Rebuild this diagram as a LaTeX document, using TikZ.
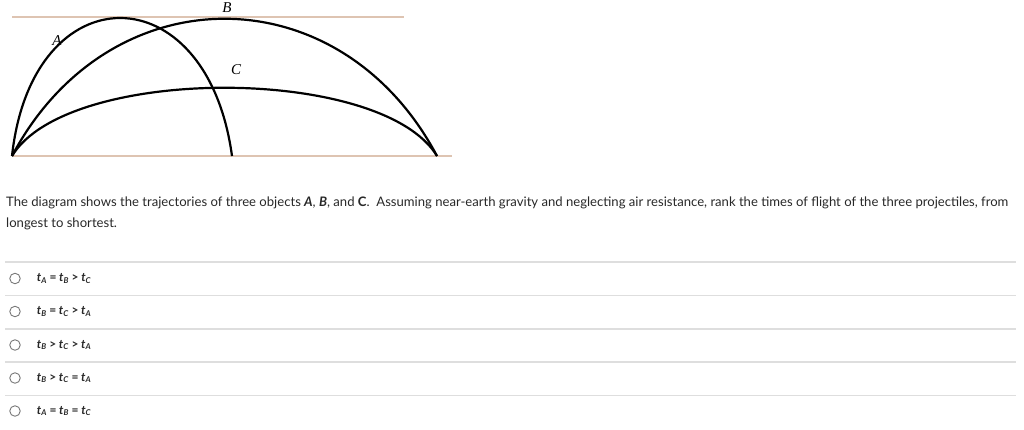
\documentclass[tikz,border=0pt]{standalone}
\usepackage{fontspec}
\setmainfont{Lato}
\newfontfamily\labelfont{Liberation Serif}
\usetikzlibrary{positioning}

\definecolor{groundtan}{RGB}{222,196,178}
\definecolor{rulegray}{RGB}{222,222,222}
\definecolor{radiogray}{RGB}{120,120,120}
\definecolor{inktext}{RGB}{40,40,40}

\newcommand{\tof}[1]{\textit{t}\textsubscript{\textit{#1}}}
\newcommand{\rel}[1]{\hspace{0.22em}#1\hspace{0.22em}}

\begin{document}
\begin{tikzpicture}[
    x=1pt, y=-1pt,
    level/.style={draw=groundtan, line width=1.3pt},
    trajectory/.style={draw=black, line width=2.2pt},
    tag/.style={font=\labelfont\itshape\fontsize{15}{15}\selectfont, inner sep=0pt},
    question/.style={font=\fontsize{13.1}{15}\selectfont, text=inktext, inner sep=0pt, anchor=base west},
    divider/.style={draw=rulegray, line width=1.2pt},
    radio/.style={circle, draw=radiogray, line width=0.9pt, minimum size=10.5pt, inner sep=0pt},
    choice/.style={font=\fontsize{12}{14}\selectfont\bfseries, text=inktext, inner sep=0pt}
]
\useasboundingbox (0,0) rectangle (1024,429);

% Reference levels
\coordinate (topL) at (12,17);
\coordinate (topR) at (404,17);
\coordinate (launch) at (12,156);
\coordinate (groundR) at (452,156);
\draw[level] (topL) -- (topR);
\draw[level] (launch) -- (groundR);

% Trajectories
\coordinate (landA) at (232,156);
\coordinate (landB) at (437,156);
\draw[trajectory] (launch) .. controls (32,-28) and (207,-28) .. (landA);
\draw[trajectory] (launch) .. controls (109,-27) and (340,-27) .. (landB);
\draw[trajectory] (launch) .. controls (67,65) and (382,65) .. (landB);

% Labels
\node[tag] (labA) at (57,41) {A};
\node[tag] (labB) at (227,8) {B};
\node[tag] (labC) at (236,70) {C};

% Question
\node[question] (q1) at (6,206.5) {The diagram shows the trajectories of three objects \textbf{\textit{A}}, \textbf{\textit{B}}, and \textbf{C}.\ \ Assuming near-earth gravity and neglecting air resistance, rank the times of flight of the three projectiles, from};
\node[question] (q2) at (6,227) {longest to shortest.};

% Choices
\coordinate (divL1) at (5,262);   \coordinate (divR1) at (1016,262);
\coordinate (divL2) at (5,295.5); \coordinate (divR2) at (1016,295.5);
\coordinate (divL3) at (5,329);   \coordinate (divR3) at (1016,329);
\coordinate (divL4) at (5,362);   \coordinate (divR4) at (1016,362);
\coordinate (divL5) at (5,395.5); \coordinate (divR5) at (1016,395.5);
\draw[divider] (divL1) -- (divR1);
\draw[divider] (divL2) -- (divR2);
\draw[divider] (divL3) -- (divR3);
\draw[divider] (divL4) -- (divR4);
\draw[divider] (divL5) -- (divR5);

\node[radio] (r1) at (15,278.5) {};
\node[choice, right=16pt of r1] (c1) {\tof{A}\rel{=}\tof{B}\rel{>}\tof{C}};
\node[radio] (r2) at (15,311.5) {};
\node[choice, right=16pt of r2] (c2) {\tof{B}\rel{=}\tof{C}\rel{>}\tof{A}};
\node[radio] (r3) at (15,345) {};
\node[choice, right=16pt of r3] (c3) {\tof{B}\rel{>}\tof{C}\rel{>}\tof{A}};
\node[radio] (r4) at (15,378) {};
\node[choice, right=16pt of r4] (c4) {\tof{B}\rel{>}\tof{C}\rel{=}\tof{A}};
\node[radio] (r5) at (15,411) {};
\node[choice, right=16pt of r5] (c5) {\tof{A}\rel{=}\tof{B}\rel{=}\tof{C}};

\end{tikzpicture}
\end{document}
